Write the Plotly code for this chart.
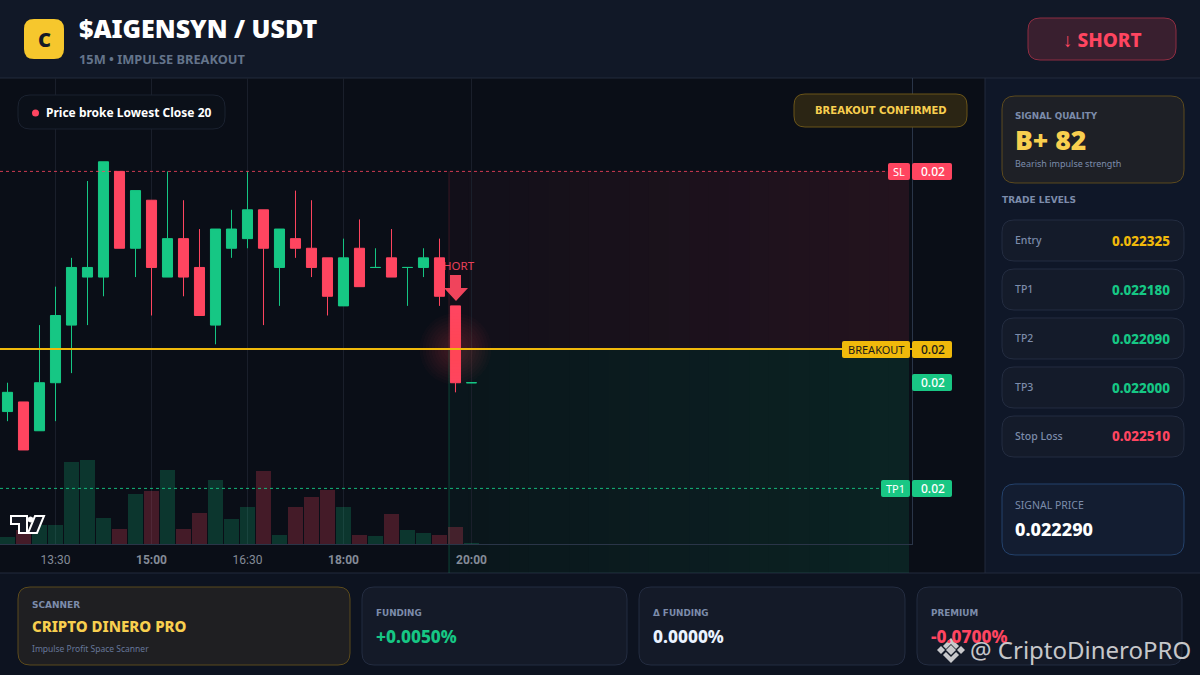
import pandas as pd
import plotly.graph_objects as go

# 15m candles, 12:45 -> 20:00
times = pd.date_range("2025-01-15 12:45", periods=30, freq="15min")
opens = [0.02226, 0.02227, 0.02224, 0.02229, 0.02235, 0.02240, 0.02240, 0.02251, 0.02243, 0.02248,
         0.02240, 0.02244, 0.02241, 0.02235, 0.02243, 0.02244, 0.02247, 0.02241, 0.02244, 0.02243,
         0.02242, 0.02237, 0.02243, 0.02241, 0.02242, 0.02241, 0.02241, 0.02242, 0.02237, 0.02229]
highs = [0.02229, 0.02227, 0.02235, 0.02239, 0.02242, 0.02250, 0.02252, 0.02251, 0.02249, 0.02248,
         0.02251, 0.02248, 0.02245, 0.02245, 0.02247, 0.02251, 0.02247, 0.02245, 0.02249, 0.02248,
         0.02242, 0.02244, 0.02246, 0.02243, 0.02245, 0.02241, 0.02243, 0.02244, 0.02237, 0.02229]
lows = [0.02225, 0.02222, 0.02224, 0.02225, 0.02230, 0.02235, 0.02238, 0.02243, 0.02240, 0.02236,
        0.02240, 0.02238, 0.02236, 0.02233, 0.02242, 0.02243, 0.02235, 0.02237, 0.02242, 0.02240,
        0.02236, 0.02237, 0.02239, 0.02241, 0.02240, 0.02237, 0.02240, 0.02237, 0.02228, 0.02229]
closes = [0.02228, 0.02222, 0.02229, 0.02236, 0.02241, 0.02241, 0.02252, 0.02243, 0.02249, 0.02241,
          0.02244, 0.02240, 0.02236, 0.02245, 0.02245, 0.02247, 0.02243, 0.02245, 0.02243, 0.02241,
          0.02238, 0.02242, 0.02239, 0.02241, 0.02240, 0.02241, 0.02242, 0.02238, 0.02229, 0.02229]
volumes = [7, 14, 19, 19, 82, 84, 26, 15, 50, 53, 74, 15, 31, 64, 25, 37, 73, 9, 37, 47,
           54, 37, 9, 8, 30, 14, 11, 9, 17, 1]

tick_vals = ["2025-01-15 13:30", "2025-01-15 15:00", "2025-01-15 16:30", "2025-01-15 18:00", "2025-01-15 20:00"]
tick_text = ["13:30", "<b>15:00</b>", "16:30", "<b>18:00</b>", "<b>20:00</b>"]

sl_price = 0.022510
entry_price = 0.022325
signal_price = 0.022290
tp1_price = 0.022180
signal_time = "2025-01-15 19:45"

trade_labels = ["Entry", "TP1", "TP2", "TP3", "Stop Loss"]
trade_values = ["0.022325", "0.022180", "0.022090", "0.022000", "0.022510"]

GREEN = "#16c784"
RED = "#ff4560"
YELLOW = "#f0b90b"
GOLD = "#f8cf4f"
CARD_LINE = "#232c40"
MUTED = "#7c8cab"
FONT = "Noto Sans"
WIDE = "DejaVu Sans"


def fx(x):
    return x / 1200


def fy(y):
    return 1 - y / 675


def rrect(x0, y0, x1, y1, r):
    # rounded box as svg path, in page pixels -> paper
    pts = [("M", x0 + r, y0), ("L", x1 - r, y0), ("Q", x1, y0, x1, y0 + r), ("L", x1, y1 - r),
           ("Q", x1, y1, x1 - r, y1), ("L", x0 + r, y1), ("Q", x0, y1, x0, y1 - r), ("L", x0, y0 + r),
           ("Q", x0, y0, x0 + r, y0)]
    out = ""
    for p in pts:
        out += p[0]
        for k in range(1, len(p), 2):
            out += f" {fx(p[k]):.5f},{fy(p[k + 1]):.5f} "
    return out + "Z"


def poly(points):
    return "M " + " L ".join(f"{fx(a):.5f},{fy(b):.5f}" for a, b in points) + " Z"


shapes = []
notes = []


def box(x0, y0, x1, y1, r=0, fill="rgba(0,0,0,0)", line=None, layer="above"):
    shapes.append(dict(type="path", path=rrect(x0, y0, x1, y1, r) if r else poly([(x0, y0), (x1, y0), (x1, y1), (x0, y1)]),
                       xref="paper", yref="paper", fillcolor=fill, layer=layer,
                       line=dict(color=line or "rgba(0,0,0,0)", width=1 if line else 0)))


def shape_poly(points, fill, line=None, width=1):
    shapes.append(dict(type="path", path=poly(points), xref="paper", yref="paper", fillcolor=fill, layer="above",
                       line=dict(color=line or "rgba(0,0,0,0)", width=width if line else 0)))


def label(x, y, s, size, color, weight=400, anchor="left", family=FONT):
    if anchor == "left":
        x -= 1
    notes.append(dict(x=fx(x), y=fy(y), xref="paper", yref="paper", text=s, showarrow=False, xanchor=anchor,
                      yanchor="middle", borderpad=0, font=dict(size=size, color=color, family=family, weight=weight)))


# panels
box(0, 0, 1200, 78, fill="#111827", line=None, layer="below")
box(985, 78, 1200, 573, fill="#0f1728", layer="below")
box(0, 573, 1200, 675, fill="#0d1320", layer="below")
for seg in [[(0, 78), (1200, 78)], [(0, 573), (1200, 573)], [(985, 78), (985, 573)]]:
    shapes.append(dict(type="line", xref="paper", yref="paper", x0=fx(seg[0][0]), y0=fy(seg[0][1]),
                       x1=fx(seg[1][0]), y1=fy(seg[1][1]), line=dict(color="#222b3d", width=1), layer="below"))

# trade zones, right of the signal candle, a bit stronger towards the right
zone_edges = list(range(449, 909, 20)) + [909]
for k in range(len(zone_edges) - 1):
    a = 0.035 + 0.07 * k / (len(zone_edges) - 2)
    box(zone_edges[k], 171, zone_edges[k + 1], 349, fill=f"rgba(255,69,96,{a:.3f})", layer="below")
    box(zone_edges[k], 349, zone_edges[k + 1], 573, fill=f"rgba(22,199,132,{a + 0.01:.3f})", layer="below")
for y0, y1, c in [(171, 349, "rgba(255,69,96,0.18)"), (349, 573, "rgba(22,199,132,0.28)")]:
    shapes.append(dict(type="line", xref="paper", yref="paper", x0=fx(449), x1=fx(449), y0=fy(y0), y1=fy(y1),
                       line=dict(color=c, width=1), layer="below"))

# header
box(24, 19, 64, 59, r=10, fill="#f6c72d")
label(44, 39, "C", 20, "#141a26", 900, "center")
label(79, 28, "$AIGENSYN / USDT", 25, "#ffffff", 900)
label(79, 59, "15M • IMPULSE BREAKOUT", 12.8, "#64748b", 700)
box(1028, 18, 1176, 60, r=12, fill="#391f2f", line="#8f2d42")
label(1102, 40, "↓ SHORT", 19, RED, 800, "center")

# chart overlays
box(18, 95, 225, 129, r=12, fill="#0b1019", line="#1b2230")
shapes.append(dict(type="circle", xref="paper", yref="paper", x0=fx(32), x1=fx(39), y0=fy(116.5), y1=fy(109.5),
                   fillcolor=RED, line=dict(width=0), layer="above"))
label(46, 112.5, "Price broke Lowest Close 20", 12, "#ffffff", 700)
box(794, 94, 967, 127, r=11, fill="#2b2514", line="#6b5519")
label(880.5, 111, "BREAKOUT CONFIRMED", 10, GOLD, 700, "center", WIDE)

# short arrow
shape_poly([(450, 275), (461, 275), (461, 288), (468, 288), (456, 301), (444, 288), (450, 288)], "#f0445c")

# level tags
for x0, x1, y, txt, fill, col in [(888, 910, 171.5, "SL", RED, "#ffffff"), (842, 910, 349.5, "BREAKOUT", YELLOW, "#1a1a1a"),
                                  (881, 910, 488.5, "TP1", "#19c784", "#ffffff")]:
    box(x0, y - 8.5, x1, y + 8.5, r=2, fill=fill)
    label((x0 + x1) / 2, y, txt, 11, col, 400, "center")
for y, fill, col in [(171.5, RED, "#ffffff"), (349.5, YELLOW, "#1a1a1a"), (382.5, "#19c784", "#ffffff"), (488.5, "#19c784", "#ffffff")]:
    box(912, y - 8.5, 952, y + 8.5, r=2, fill=fill)
    label(933, y, "0.02", 12, col, 500, "center")

# sidebar
box(1002, 96, 1184, 183, r=13, fill="#1e2026", line="#5c4a1e")
label(1015, 116, "SIGNAL QUALITY", 8.8, MUTED, 700, family=WIDE)
label(1015, 140, "B+ 82", 26.5, GOLD, 900)
label(1015, 163, "Bearish impulse strength", 9, MUTED)
label(1002, 200, "TRADE LEVELS", 9, MUTED, 700, family=WIDE)
level_tops = [220, 269, 318, 367, 416]
level_colors = ["#f0b90b", GREEN, GREEN, GREEN, RED]
for top, name, val, col in zip(level_tops, trade_labels, trade_values, level_colors):
    box(1002, top, 1184, top + 41, r=12, fill="#141b2a", line=CARD_LINE)
    label(1015, top + 20, name, 10.5, MUTED, 500)
    label(1171, top + 20.5, val, 13.4, col, 800, "right")
box(1002, 484, 1184, 555, r=13, fill="#131d31", line="#24426c")
label(1015, 505, "SIGNAL PRICE", 10.5, MUTED)
label(1015, 529, "0.022290", 18, "#ffffff", 800)

# bottom row
box(18, 587, 350, 665, r=12, fill="#1f1f22", line="#5b4a1c")
label(32, 605, "SCANNER", 9, MUTED, 700, family=WIDE)
label(32, 626, "CRIPTO DINERO PRO", 15, GOLD, 800)
label(32, 648, "Impulse Profit Space Scanner", 8.5, "#66779a")
for x0, x1, name, val, col in [(362, 627, "FUNDING", "+0.0050%", GREEN), (639, 905, "Δ FUNDING", "0.0000%", "#eaf2ff"),
                               (917, 1182, "PREMIUM", "-0.0700%", RED)]:
    box(x0, 587, x1, 665, r=12, fill="#141a28", line=CARD_LINE)
    label(x0 + 14, 613, name, 8.8, MUTED, 700, family=WIDE)
    label(x0 + 14, 636, val, 17.3, col, 800)

# tradingview mark
shape_poly([(11, 516), (27, 516), (27, 533), (19, 533), (19, 524), (11, 524)], "#131722", "#ffffff", 2)
shapes.append(dict(type="circle", xref="paper", yref="paper", x0=fx(28), x1=fx(33), y0=fy(522), y1=fy(517),
                   fillcolor="#ffffff", line=dict(color="#ffffff", width=1), layer="above"))
shape_poly([(35, 516), (44, 516), (37, 533), (28, 533)], "#131722", "#ffffff", 2)

# watermark
wm = "rgba(232,232,232,0.85)"
shape_poly([(951, 645), (956, 650), (951, 655), (946, 650)], wm)
shape_poly([(937, 650), (941, 646), (945, 650), (941, 654)], wm)
shape_poly([(957, 650), (961, 646), (965, 650), (961, 654)], wm)
shape_poly([(951, 638), (959, 646), (956, 649), (951, 644), (946, 649), (943, 646)], wm)
shape_poly([(951, 663), (959, 655), (956, 652), (951, 657), (946, 652), (943, 655)], wm)
label(970, 649, "@ CriptoDineroPRO", 24, wm, 400, family="Noto Sans")

df = pd.DataFrame(dict(t=times, o=opens, h=highs, l=lows, c=closes, v=volumes))
up = df[df.c >= df.o]
down = df[df.c < df.o]

fig = go.Figure()

# sits under the candles, the bar before the signal covers the S
fig.add_trace(go.Scatter(x=[signal_time], y=[0.02241], mode="text", text=["SHORT"], textposition="middle center",
                         textfont=dict(size=11.5, color="#e8415a", family=FONT), yaxis="y", showlegend=False))

fig.add_trace(go.Bar(x=df.t, y=df.v, yaxis="y2", showlegend=False,
                     marker=dict(color=["rgba(22,199,132,0.22)" if c >= o else "rgba(255,69,96,0.24)"
                                        for o, c in zip(opens, closes)], line=dict(width=0))))

for part, col in [(up, GREEN), (down, RED)]:
    fig.add_trace(go.Candlestick(x=part.t, open=part.o, high=part.h, low=part.l, close=part.c, yaxis="y3",
                                 increasing=dict(line=dict(color=col, width=1), fillcolor=col),
                                 decreasing=dict(line=dict(color=col, width=1), fillcolor=col),
                                 whiskerwidth=0, showlegend=False))

# glow on the breakout, rings stacked at one point
glow_sizes = [72, 66, 60, 54, 48, 42, 36, 30, 24]
fig.add_trace(go.Scatter(x=[signal_time] * len(glow_sizes), y=[entry_price] * len(glow_sizes), mode="markers", yaxis="y3",
                         showlegend=False, marker=dict(size=glow_sizes, color="rgba(255,69,96,0.035)", line=dict(width=0))))

for price, col, dash, w in [(sl_price, "rgba(255,69,96,0.8)", "dot", 1), (entry_price, YELLOW, "solid", 2),
                            (tp1_price, "rgba(22,199,132,0.9)", "dot", 1)]:
    shapes.append(dict(type="line", xref="paper", yref="y", x0=0, x1=fx(912), y0=price, y1=price,
                       line=dict(color=col, width=w, dash=dash), layer="above"))

price_range = [0.02212212, 0.02260723]
x_range = ["2025-01-15 12:37:58", "2025-01-16 02:53:00"]
dom = [fy(544), fy(78)]

fig.update_layout(
    width=1200, height=675, margin=dict(l=0, r=0, t=0, b=0),
    paper_bgcolor="#0a0e17", plot_bgcolor="rgba(0,0,0,0)", font=dict(family=FONT),
    showlegend=False, bargap=0.0625, boxgap=0.1, boxgroupgap=0.3, boxmode="overlay",
    shapes=shapes, annotations=notes,
    xaxis=dict(domain=[0, fx(912)], range=x_range, type="date", tickmode="array", tickvals=tick_vals, ticktext=tick_text,
               rangeslider=dict(visible=False), showgrid=True, gridcolor="#1a1f2b", gridwidth=1, zeroline=False,
               showline=True, linecolor="#2a3548", linewidth=1, ticks="outside", ticklen=5, tickcolor="rgba(0,0,0,0)",
               tickfont=dict(size=12, color="#848b98", family="Roboto")),
    yaxis=dict(domain=dom, range=price_range, side="right", showgrid=False, zeroline=False, showticklabels=False,
               showline=True, linecolor="#2a3548", linewidth=1),
    yaxis2=dict(domain=dom, range=[0, 466], overlaying="y", showgrid=False, zeroline=False, showticklabels=False),
    yaxis3=dict(domain=dom, range=price_range, overlaying="y", showgrid=False, zeroline=False, showticklabels=False),
)

fig.write_html("out.html", config=dict(displayModeBar=False),
               post_script="document.body.style.margin='0';document.documentElement.style.overflow='hidden';")
